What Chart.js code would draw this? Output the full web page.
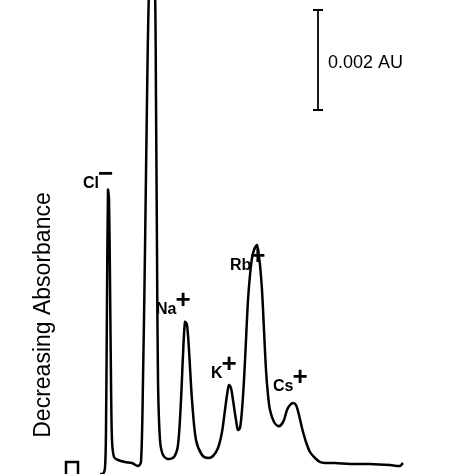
<!DOCTYPE html><html><head><script src="https://cdn.jsdelivr.net/npm/chart.js@4"></script>
<style>html,body{margin:0;background:#fff}#w{width:474px;height:474px}</style></head><body><div id="w"><canvas id="c"></canvas></div>
<script>
const timeX=[100,103,105,106,107,108,109,110,111,112,114,118,125,132,138,141,143,145,147,149,151,153,155,156,157,158,160,163,168,174,178,181,183,185,187,189,192,196,202,208,213,218,222,225,227,229,231,233,236,238,240,242,244,246,248,250,252,254,256,257,258,260,262,264,266,268,270,274,278,281,284,287,290,293,296,299,302,306,310,315,320,325,335,350,370,390,400,403];
const absorb=[474,474,468,430,300,190,200,280,380,440,457,460,462,463,466,462,380,250,100,-10,-30,-30,-10,100,250,380,440,455,459,457,445,400,355,322,325,350,400,440,455,458,456,448,432,410,395,385,388,400,420,430,428,410,380,340,300,275,258,250,246,245,250,265,290,330,370,395,410,422,426,425,420,410,405,403,405,415,428,442,452,458,462,463,463,464,464,465,466,463];
const labels=[{t:"Cl",s:"−",x:83,y:188},{t:"Na",s:"+",x:156,y:314},{t:"K",s:"+",x:211,y:378},{t:"Rb",s:"+",x:230,y:270},{t:"Cs",s:"+",x:273,y:391}];
const deco={id:'deco',afterDraw(ch){const c=ch.ctx,xs=ch.scales.x,ys=ch.scales.y;c.save();c.fillStyle='#000';c.strokeStyle='#000';c.lineWidth=1.8;
c.textBaseline='alphabetic';
labels.forEach(l=>{const px=xs.getPixelForValue(l.x),py=ys.getPixelForValue(l.y);c.font='bold 16px "Liberation Sans"';c.fillText(l.t,px,py);const w=c.measureText(l.t).width;c.font='bold 26px "Liberation Sans"';c.fillText(l.s,px+w-1,py-6);});
const bx=xs.getPixelForValue(318),t=ys.getPixelForValue(10),b=ys.getPixelForValue(110);
c.beginPath();c.moveTo(bx,t);c.lineTo(bx,b);c.moveTo(bx-5,t);c.lineTo(bx+5,t);c.moveTo(bx-5,b);c.lineTo(bx+5,b);c.stroke();
c.font='18px "Liberation Sans"';c.fillText('0.002 AU',xs.getPixelForValue(328),ys.getPixelForValue(68));
c.translate(xs.getPixelForValue(50),ys.getPixelForValue(315));c.rotate(-Math.PI/2);c.textAlign='center';c.font='23px "Liberation Sans"';c.fillText('Decreasing Absorbance',0,0);c.restore();
c.save();c.lineWidth=2.5;const p=(a,b)=>[xs.getPixelForValue(a),ys.getPixelForValue(b)];c.beginPath();let q=p(66,474);c.moveTo(...q);q=p(66,462);c.lineTo(...q);q=p(78,462);c.lineTo(...q);q=p(78,474);c.lineTo(...q);c.stroke();c.restore();}};
new Chart(document.getElementById('c'),{type:'line',data:{datasets:[{data:timeX.map((x,i)=>({x,y:absorb[i]})),borderColor:'#000',borderWidth:2.5,pointRadius:0,tension:0.3,fill:false}]},
options:{responsive:true,maintainAspectRatio:false,animation:false,layout:{padding:0},plugins:{legend:{display:false},tooltip:{enabled:false}},
scales:{x:{type:'linear',min:0,max:474,display:false},y:{min:0,max:474,reverse:true,display:false}}},plugins:[deco]});
</script></body></html>
